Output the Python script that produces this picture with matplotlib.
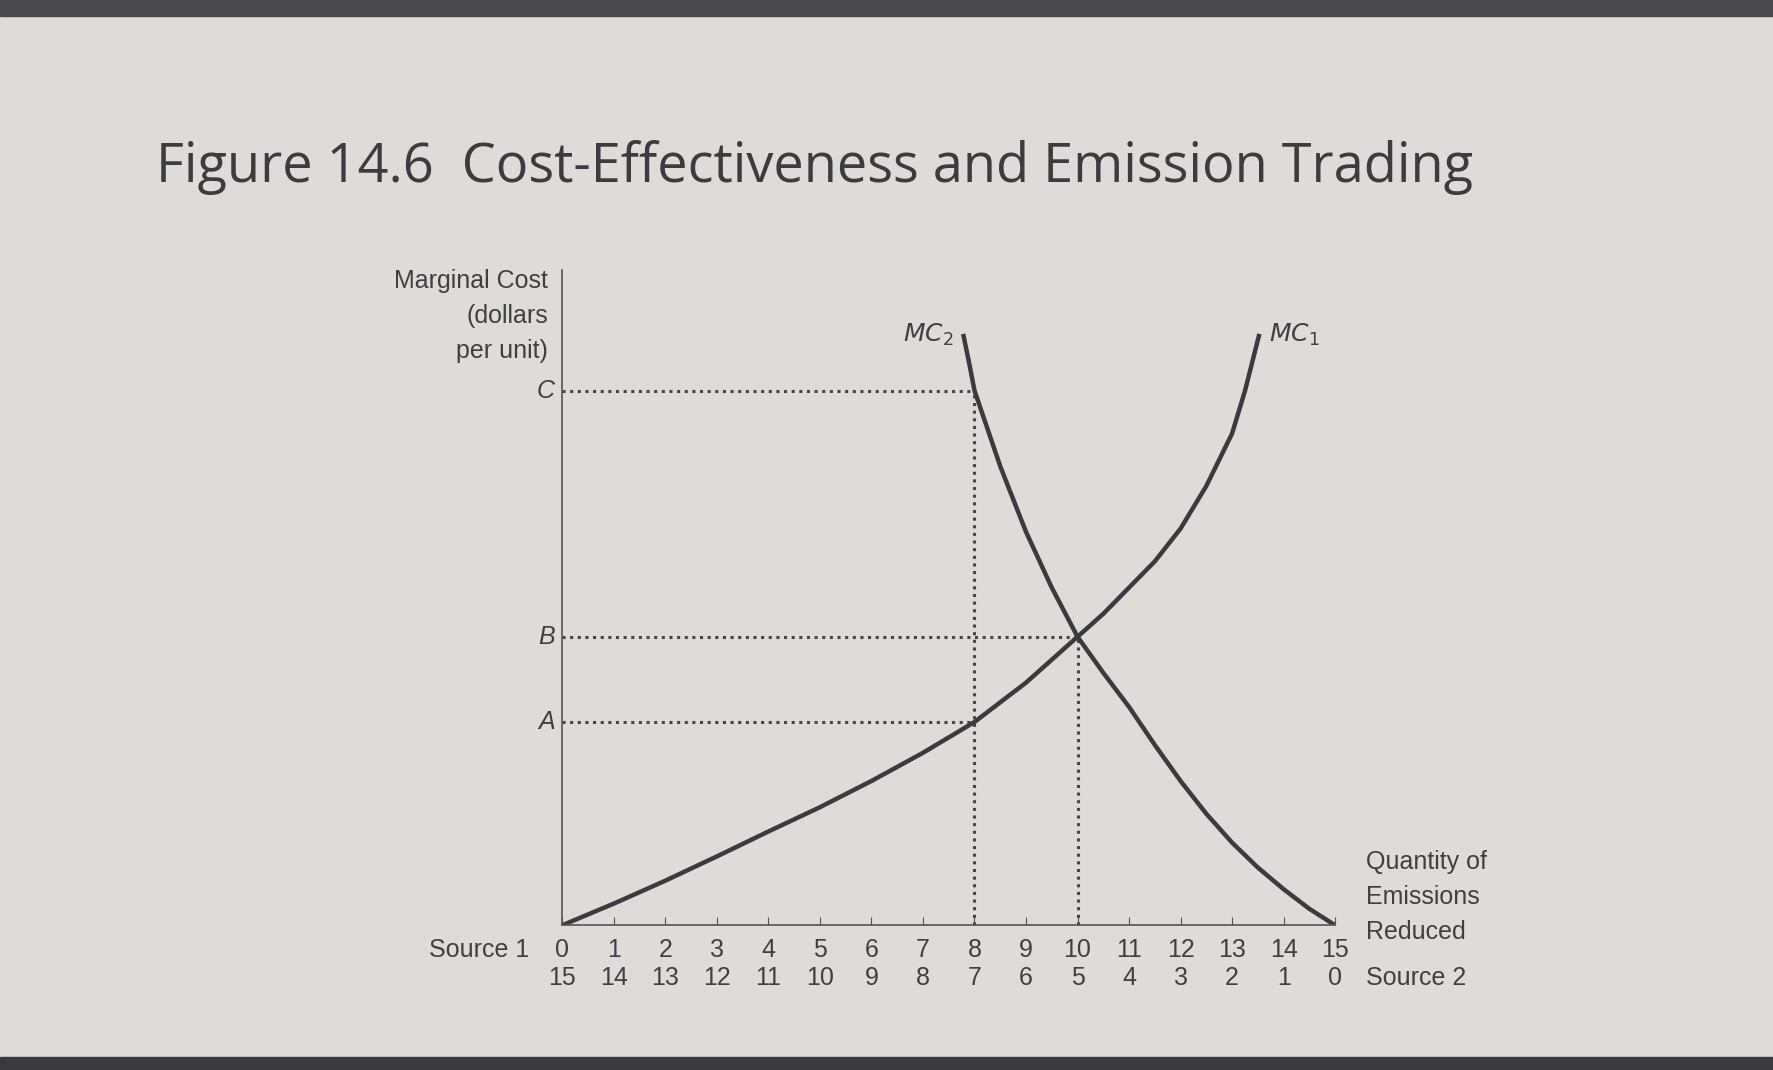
import matplotlib
matplotlib.use("Agg")
import matplotlib.pyplot as plt
from matplotlib.patches import Rectangle

# (x: units reduced by source 1, y: marginal cost, axis top = 10)
mc1_x = [0, 1, 2, 3, 4, 5, 6, 7, 8, 9, 10, 10.5, 11, 11.5, 12, 12.5, 13, 13.25, 13.53]
mc1_y = [0, 0.33, 0.68, 1.05, 1.43, 1.8, 2.2, 2.63, 3.1, 3.7, 4.4, 4.75, 5.15, 5.55, 6.05, 6.7, 7.5, 8.15, 9.02]
mc2_x = [7.78, 7.89, 8, 8.5, 9, 9.5, 10, 10.5, 11, 11.5, 12, 12.5, 13, 13.5, 14, 14.5, 15]
mc2_y = [9.02, 8.6, 8.155, 7.0, 6.0, 5.15, 4.4, 3.85, 3.33, 2.75, 2.2, 1.7, 1.26, 0.88, 0.55, 0.25, 0]
level_names = ["C", "B", "A"]
level_values = [8.155, 4.4, 3.1]
level_ends = [8, 10, 8]
source1_ticks = list(range(16))
source2_ticks = list(range(15, -1, -1))

BG = "#dddcd8"
INK = "#3a3a3f"
TXT = "#404044"
plt.rcParams["font.family"] = ["Liberation Sans", "DejaVu Sans"]

fig = plt.figure(figsize=(17.74, 10.70), dpi=100, facecolor=BG)
fig.patches.append(Rectangle((0, 0.985), 1, 0.015, transform=fig.transFigure, color="#4a4a4e"))
fig.patches.append(Rectangle((0, 0), 1, 0.012, transform=fig.transFigure, color="#3a3a3e"))
fig.text(0.088, 0.843, "Figure 14.6  Cost-Effectiveness and Emission Trading",
         fontsize=39, color="#3c3c40", family=["Open Sans", "DejaVu Sans"], va="center")

ax = fig.add_axes([0.317, 0.1353, 0.4356, 0.6127])
ax.set_facecolor(BG)
ax.set_xlim(0, 15)
ax.set_ylim(0, 10)
for s in ["top", "right"]:
    ax.spines[s].set_visible(False)
for s in ["left", "bottom"]:
    ax.spines[s].set_color("#555558")
    ax.spines[s].set_linewidth(1.2)
ax.set_yticks([])
ax.set_xticks(source1_ticks)
ax.set_xticklabels([])
ax.tick_params(axis="x", direction="in", length=6, color="#555558")

dot = dict(color="#45454a", linestyle=(0, (1, 1.5)), linewidth=2.2)
for name, v, end in zip(level_names, level_values, level_ends):
    ax.plot([0, end], [v, v], **dot)
    ax.text(-0.15, v, name, ha="right", va="center", fontsize=18, style="italic", color=TXT)
ax.plot([8, 8], [0, level_values[0]], **dot)
ax.plot([10, 10], [0, level_values[1]], **dot)

ax.plot(mc1_x, mc1_y, color=INK, lw=3.2, solid_capstyle="butt", solid_joinstyle="round")
ax.plot(mc2_x, mc2_y, color=INK, lw=3.2, solid_capstyle="butt", solid_joinstyle="round")
ax.text(7.1, 9.0, "$MC_2$", fontsize=18, color=TXT, ha="center", va="center")
ax.text(14.2, 9.0, "$MC_1$", fontsize=18, color=TXT, ha="center", va="center")

for x, a, b in zip(source1_ticks, source1_ticks, source2_ticks):
    ax.text(x, -0.38, str(a), ha="center", va="center", fontsize=18, color=TXT, clip_on=False)
    ax.text(x, -0.8, str(b), ha="center", va="center", fontsize=18, color=TXT, clip_on=False)
ax.text(-0.65, -0.38, "Source 1", ha="right", va="center", fontsize=18, color=TXT)
ax.text(15.6, -0.8, "Source 2", ha="left", va="center", fontsize=18, color=TXT)
for y, line in zip([0.97, 0.43, -0.1], ["Quantity of", "Emissions", "Reduced"]):
    ax.text(15.6, y, line, ha="left", va="center", fontsize=18, color=TXT)
for y, line in zip([9.83, 9.29, 8.76], ["Marginal Cost", "(dollars", "per unit)"]):
    ax.text(-0.28, y, line, ha="right", va="center", fontsize=18, color=TXT)

fig.savefig("out.png", dpi=100, facecolor=BG)
